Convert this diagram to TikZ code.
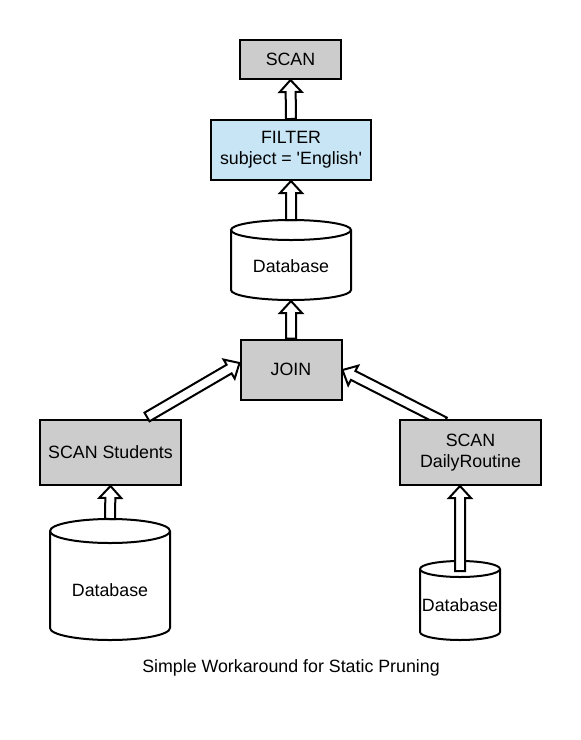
\documentclass[tikz,border=0pt]{standalone}
\usepackage{fontspec}
\newfontfamily\arial{Liberation Sans}
\usetikzlibrary{calc}
\pgfdeclarelayer{background}
\pgfsetlayers{background,main}
\definecolor{boxgray}{RGB}{204,204,204}
\definecolor{boxblue}{RGB}{199,229,245}
\tikzset{
  every node/.style={font=\arial\fontsize{17.8}{21.4}\selectfont, align=center},
  opbox/.style={draw, line width=2pt, fill=boxgray, inner sep=0pt},
  filterbox/.style={opbox, fill=boxblue},
  dblabel/.style={inner sep=0pt},
  cylline/.style={draw, line width=2pt, fill=white},
  blk/.style={draw, line width=2pt, fill=white, line join=miter},
}
\newcommand\blockarrow[2]{%
  \draw[blk] ($(#1)!5pt!90:(#2)$) -- ($(#2)!12pt!(#1)!5pt!90:(#2)$)
    -- ($(#2)!12pt!(#1)!11pt!90:(#2)$) -- (#2)
    -- ($(#2)!12pt!(#1)!11pt!-90:(#2)$) -- ($(#2)!12pt!(#1)!5pt!-90:(#2)$)
    -- ($(#1)!5pt!-90:(#2)$) -- cycle;}
% #1 centre x, #2 top y, #3 bottom y, #4 half width, #5 ellipse y radius
\newcommand\dbcyl[5]{%
  \draw[cylline] ({#1-#4},{#2+#5}) -- ({#1-#4},{#3-#5})
    arc[start angle=180,end angle=360,x radius=#4pt,y radius=#5pt]
    -- ({#1+#4},{#2+#5})
    arc[start angle=0,end angle=180,x radius=#4pt,y radius=#5pt] -- cycle;
  \draw[line width=2pt] ({#1-#4},{#2+#5})
    arc[start angle=180,end angle=360,x radius=#4pt,y radius=#5pt];}
\begin{document}
\begin{tikzpicture}[x=1pt,y=-1pt]
\useasboundingbox (0,0) rectangle (581,740);
% operator boxes
\node[opbox, minimum width=101pt, minimum height=39pt] (scan) at (290.5,59.5) {SCAN};
\node[filterbox, minimum width=160pt, minimum height=60pt] (filter) at (291,150) {FILTER\\subject = 'English'};
\node[opbox, minimum width=101pt, minimum height=60pt] (join) at (291,369.5) {JOIN};
\node[opbox, minimum width=141pt, minimum height=65pt] (students) at (110.5,452.5) {SCAN Students};
\node[opbox, minimum width=141pt, minimum height=65pt] (daily) at (470.5,452.5) {SCAN\\DailyRoutine};
% databases
\dbcyl{291}{220}{300}{60}{10}
\node[dblabel] (db1) at (291,266) {Database};
\dbcyl{110}{519}{640}{60}{12}
\node[dblabel] (db2) at (110,590) {Database};
\dbcyl{460}{561}{640}{40}{8}
\node[dblabel] (db3) at (460,605) {Database};
% connector end points
\coordinate (scanIn) at (scan.south);
\coordinate (filterOut) at (filter.north);
\coordinate (filterIn) at (filter.south);
\coordinate (db1Out) at (291,220);
\coordinate (db1In) at (291,301);
\coordinate (joinOut) at (join.north);
\coordinate (joinInL) at ([yshift=6.5pt]join.west);
\coordinate (joinInR) at ([yshift=-0.5pt]join.east);
\coordinate (studOut) at ([xshift=36.5pt,yshift=2pt]students.north);
\coordinate (studIn) at (students.south);
\coordinate (dailyOut) at ([xshift=-26pt,yshift=-3pt]daily.north);
\coordinate (dailyIn) at ([xshift=-10.5pt]daily.south);
\coordinate (db2Out) at (110,519);
\coordinate (db3Out) at (460,571);
% connectors
\blockarrow{filterOut}{scanIn}
\blockarrow{db1Out}{filterIn}
\blockarrow{joinOut}{db1In}
\blockarrow{studOut}{joinInL}
\begin{pgfonlayer}{background}
\blockarrow{dailyOut}{joinInR}
\end{pgfonlayer}
\blockarrow{db2Out}{studIn}
\blockarrow{db3Out}{dailyIn}
% caption
\node (caption) at (291,668) {Simple Workaround for Static Pruning};
\end{tikzpicture}
\end{document}
